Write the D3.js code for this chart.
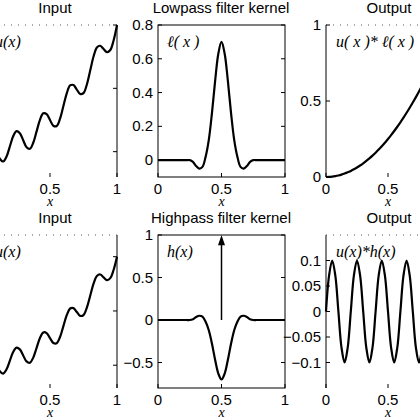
<!DOCTYPE html><html><head><meta charset="utf-8">
<script src="https://cdn.jsdelivr.net/npm/d3@7"></script>
<style>body{margin:0;background:#fff}svg{display:block}</style></head><body>
<svg id="c" width="420" height="420"></svg>
<script>
const xs40 = d3.range(41).map(i=>i/40);
const inputVals = [0,.071,.1025,.076,.01,-.055,-.0775,-.040,.04,.121,.1625,.146,.09,.035,.0225,.070,.16,.251,.3025,.296,.25,.205,.2025,.260,.36,.461,.5225,.526,.49,.455,.4625,.530,.64,.751,.8225,.836,.81,.785,.8025,.880,1];
const lowpassVals = [0,0,0,0,0,0,0,0,0,0,0,-.01,-.035,-.05,-.04,.02,.12,.28,.47,.63,.7,.63,.47,.28,.12,.02,-.04,-.05,-.035,-.01,0,0,0,0,0,0,0,0,0,0,0];
const highpassVals = lowpassVals.map(v=>-v);
const outLowVals = [0,.0006,.0025,.0056,.01,.0156,.0225,.0306,.04,.0506,.0625,.0756,.09,.1056,.1225,.1406,.16,.1806,.2025,.2256,.25,.2756,.3025,.3306,.36,.3906,.4225,.4556,.49,.5256,.5625,.6006,.64,.6806,.7225,.7656,.81,.8556,.9025,.9506,1];
const outHighVals = [0,.0707,.1,.0707,0,-.0707,-.1,-.0707,0,.0707,.1,.0707,0,-.0707,-.1,-.0707,0,.0707,.1,.0707,0,-.0707,-.1,-.0707,0,.0707,.1,.0707,0,-.0707,-.1,-.0707,0,.0707,.1,.0707,0,-.0707,-.1,-.0707,0];
const titles = [["Input","Lowpass filter kernel","Output"],["Input","Highpass filter kernel","Output"]];

const svg = d3.select("#c");
const sans = "Liberation Sans, Arial, sans-serif", serif = "Liberation Serif, Times New Roman, serif";
const cols = [{x0:-17,x1:117,tx:55},{x0:158,x1:285,tx:221},{x0:326,x1:450,tx:389}];
const rows = [{top:25,bot:177},{top:235,bot:388}];
const panels = [
 {r:0,c:0,vals:inputVals,dom:[-0.2,1.0],yt:[0,0.5,1],ytl:false,label:"u(x)",lx:-5,side:"right"},
 {r:0,c:1,vals:lowpassVals,dom:[-0.1,0.8],yt:[0,0.2,0.4,0.6,0.8],ytl:true,label:"ℓ( x )",lx:167,side:"full"},
 {r:0,c:2,vals:outLowVals,dom:[0,1],yt:[0,0.5,1],ytl:true,label:"u( x )* ℓ( x )",lx:336,side:"left"},
 {r:1,c:0,vals:inputVals,dom:[-0.21,1.2],yt:[0,0.5,1],ytl:false,label:"u(x)",lx:-5,side:"right"},
 {r:1,c:1,vals:highpassVals,dom:[-0.8,1],yt:[-0.5,0,0.5,1],ytl:true,label:"h(x)",lx:167,side:"full",arrow:true},
 {r:1,c:2,vals:outHighVals,dom:[-0.15,0.15],yt:[-0.1,-0.05,0,0.05,0.1],ytl:true,label:"u(x)*h(x)",lx:336,side:"left"}
];
panels.forEach(p=>{
  const C=cols[p.c], R=rows[p.r];
  const x=d3.scaleLinear().domain([0,1]).range([C.x0,C.x1]);
  const y=d3.scaleLinear().domain(p.dom).range([R.bot,R.top]);
  const g=svg.append("g");
  if(p.side==="full"){
    g.append("rect").attr("x",C.x0).attr("y",R.top).attr("width",C.x1-C.x0).attr("height",R.bot-R.top).attr("fill","none").attr("stroke","#000");
  } else {
    const lx = p.side==="right"?C.x1:C.x0;
    g.append("line").attr("x1",lx).attr("x2",lx).attr("y1",R.top).attr("y2",R.bot).attr("stroke","#000");
    g.append("line").attr("x1",C.x0).attr("x2",C.x1).attr("y1",R.top).attr("y2",R.top).attr("stroke","#555").attr("stroke-dasharray","1,6");
  }
  p.yt.forEach(t=>{
    const yy=y(t);
    if(p.side!=="left") g.append("line").attr("x1",C.x1).attr("x2",C.x1-4).attr("y1",yy).attr("y2",yy).attr("stroke","#000");
    if(p.side!=="right") g.append("line").attr("x1",C.x0).attr("x2",C.x0+4).attr("y1",yy).attr("y2",yy).attr("stroke","#000");
    if(p.ytl) g.append("text").attr("x",C.x0-5).attr("y",yy+5).attr("text-anchor","end").attr("font-family",sans).attr("font-size",15).text(String(t).replace("-","−"));
  });
  [0,0.5,1].forEach(t=>{
    const xx=x(t);
    g.append("line").attr("x1",xx).attr("x2",xx).attr("y1",R.bot).attr("y2",R.bot-4).attr("stroke","#000");
    if(xx>4 && xx<416) g.append("text").attr("x",xx).attr("y",R.bot+17).attr("text-anchor","middle").attr("font-family",sans).attr("font-size",15).text(String(t));
  });
  g.append("text").attr("x",x(0.5)).attr("y",R.bot+29).attr("text-anchor","middle").attr("font-family",serif).attr("font-style","italic").attr("font-size",14).text("x");
  g.append("text").attr("x",C.tx).attr("y",R.top-12).attr("text-anchor","middle").attr("font-family",sans).attr("font-size",15).text(titles[p.r][p.c]);
  g.append("text").attr("x",p.lx).attr("y",R.top+22).attr("font-family",serif).attr("font-style","italic").attr("font-size",16).text(p.label);
  const line=d3.line().x((d,i)=>x(xs40[i])).y(d=>y(d)).curve(d3.curveCatmullRom);
  g.append("path").datum(p.vals).attr("d",line).attr("fill","none").attr("stroke","#000").attr("stroke-width",2.2);
  if(p.arrow){
    g.append("line").attr("x1",x(0.5)).attr("x2",x(0.5)).attr("y1",y(0)).attr("y2",y(0.95)).attr("stroke","#000").attr("stroke-width",1.5);
    g.append("path").attr("d",`M${x(0.5)-3.5},${y(0.88)}L${x(0.5)},${y(1)}L${x(0.5)+3.5},${y(0.88)}Z`).attr("fill","#000");
  }
});
</script></body></html>
